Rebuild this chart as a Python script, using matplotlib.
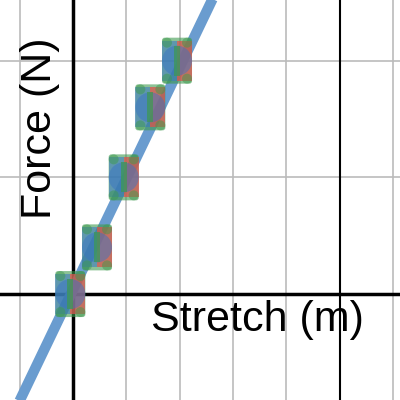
import matplotlib
matplotlib.use("Agg")
import matplotlib.pyplot as plt
import numpy as np
from matplotlib.patches import Rectangle, FancyBboxPatch, Ellipse

# data (grid units)
stretch = [-0.05, 0.45, 0.95, 1.45, 1.95]
force = [0.0, 0.40, 1.0, 1.6, 2.0]
slope, intercept = 0.952, 0.038

XLIM = (-1.369, 6.131)
YLIM = (-0.908, 2.52)
PX = (XLIM[1] - XLIM[0]) / 400   # data per pixel, x
PY = (YLIM[1] - YLIM[0]) / 400   # data per pixel, y

fig = plt.figure(figsize=(4, 4), dpi=100)
ax = fig.add_axes([0, 0, 1, 1])
ax.set_xlim(*XLIM)
ax.set_ylim(*YLIM)
ax.axis("off")

# grid
for gx in range(-1, 7):
    ax.axvline(gx, color="#bbbbbb", lw=1.2, zorder=0)
for gy in range(-1, 3):
    ax.axhline(gy, color="#bbbbbb", lw=1.2, zorder=0)
ax.axvline(0, color="black", lw=2.5, zorder=1)
ax.axvline(5, color="black", lw=1.5, zorder=1)
ax.axhline(0, color="black", lw=2.5, zorder=1)

# fit line
xs = np.array(XLIM)
ax.plot(xs, slope * xs + intercept, color="#6a9ccf", lw=7.5, zorder=2, solid_capstyle="butt")

blue, red, green = "#3a75c4", "#d9534f", "#3e9a4e"
for x, y in zip(stretch, force):
    w, h = 30 * PX, 46 * PY
    ax.add_patch(FancyBboxPatch((x - w / 2, y - h / 2), w, h,
                                boxstyle="round,pad=0,rounding_size=0.05",
                                fc=green, ec="none", alpha=0.6, zorder=3,
                                mutation_aspect=PY / PX))
    ax.add_patch(Rectangle((x - w / 2, y - 20 * PY), w / 2, 40 * PY,
                           fc=blue, ec="none", alpha=0.55, zorder=4))
    ax.add_patch(Rectangle((x, y - 20 * PY), w / 2, 40 * PY,
                           fc=red, ec="none", alpha=0.75, zorder=4))
    ax.add_patch(Ellipse((x, y), 30 * PX, 30 * PY,
                         fc=blue, ec="none", alpha=0.5, zorder=5))
    ax.add_patch(Rectangle((x - 3 * PX, y - 15 * PY), 6 * PX, 30 * PY,
                           fc=green, ec="none", alpha=0.7, zorder=5))
    for dx in (-1, 1):
        for dy in (-1, 1):
            ax.add_patch(Ellipse((x + dx * 10 * PX, y + dy * 18 * PY), 10 * PX, 10 * PY,
                                 fc=green, ec="none", alpha=0.5, zorder=5))

font = ["Liberation Sans", "DejaVu Sans"]
ax.text(257 * PX + XLIM[0], YLIM[1] - 320 * PY, "Stretch (m)", family=font,
        ha="center", va="center", fontsize=31, zorder=6)
ax.text(40 * PX + XLIM[0], YLIM[1] - 128 * PY, "Force (N)", family=font,
        ha="center", va="center", fontsize=31, rotation=90, zorder=6)

fig.savefig("out.png", dpi=100)
